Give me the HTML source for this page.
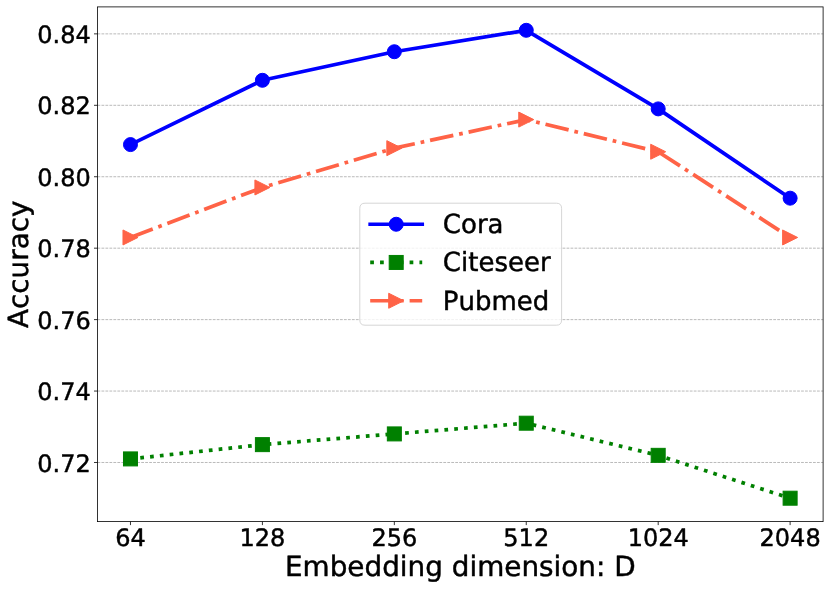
<!DOCTYPE html>
<html lang="en">
<head>
<meta charset="utf-8">
<title>Accuracy vs embedding dimension</title>
<style>
html,body{margin:0;padding:0;background:#fff;width:830px;height:589px;overflow:hidden}
svg text{font-kerning:none;text-rendering:geometricPrecision;stroke:#000;stroke-width:0.45px;stroke-linejoin:round}
</style>
</head>
<body>
<svg width="830" height="589" viewBox="0 0 830 589" style="display:block;position:absolute;left:0;top:0">
<rect x="0" y="0" width="830" height="589" fill="#fff"/>
<g stroke="#808080" stroke-opacity="0.72" stroke-width="0.75" stroke-dasharray="2.775 1.2" fill="none">
<path d="M97.50 462.49H823.10"/>
<path d="M97.50 391.05H823.10"/>
<path d="M97.50 319.61H823.10"/>
<path d="M97.50 248.18H823.10"/>
<path d="M97.50 176.74H823.10"/>
<path d="M97.50 105.30H823.10"/>
<path d="M97.50 33.87H823.10"/>
</g>
<clipPath id="ax"><rect x="97.5" y="6.9" width="725.60" height="514.70"/></clipPath>
<g clip-path="url(#ax)">
<polyline points="130.48,144.59 262.41,80.30 394.34,51.73 526.26,30.30 658.19,108.88 790.12,198.17" fill="none" stroke="#0000ff" stroke-width="3.718" stroke-linejoin="round" stroke-linecap="square"/>
<circle cx="130.48" cy="144.59" r="7.00" fill="#0000ff" stroke="#0000ff" stroke-width="1.0"/>
<circle cx="262.41" cy="80.30" r="7.00" fill="#0000ff" stroke="#0000ff" stroke-width="1.0"/>
<circle cx="394.34" cy="51.73" r="7.00" fill="#0000ff" stroke="#0000ff" stroke-width="1.0"/>
<circle cx="526.26" cy="30.30" r="7.00" fill="#0000ff" stroke="#0000ff" stroke-width="1.0"/>
<circle cx="658.19" cy="108.88" r="7.00" fill="#0000ff" stroke="#0000ff" stroke-width="1.0"/>
<circle cx="790.12" cy="198.17" r="7.00" fill="#0000ff" stroke="#0000ff" stroke-width="1.0"/>
<polyline points="130.48,458.91 262.41,444.63 394.34,433.91 526.26,423.20 658.19,455.34 790.12,498.20" fill="none" stroke="#008000" stroke-width="3.718" stroke-linejoin="round" stroke-dasharray="3.718 6.135"/>
<rect x="123.48" y="451.91" width="14.0" height="14.0" fill="#008000" stroke="#008000" stroke-width="1.0" stroke-linejoin="miter"/>
<rect x="255.41" y="437.63" width="14.0" height="14.0" fill="#008000" stroke="#008000" stroke-width="1.0" stroke-linejoin="miter"/>
<rect x="387.34" y="426.91" width="14.0" height="14.0" fill="#008000" stroke="#008000" stroke-width="1.0" stroke-linejoin="miter"/>
<rect x="519.26" y="416.20" width="14.0" height="14.0" fill="#008000" stroke="#008000" stroke-width="1.0" stroke-linejoin="miter"/>
<rect x="651.19" y="448.34" width="14.0" height="14.0" fill="#008000" stroke="#008000" stroke-width="1.0" stroke-linejoin="miter"/>
<rect x="783.12" y="491.20" width="14.0" height="14.0" fill="#008000" stroke="#008000" stroke-width="1.0" stroke-linejoin="miter"/>
<polyline points="130.48,237.46 262.41,187.46 394.34,148.17 526.26,119.59 658.19,151.74 790.12,237.46" fill="none" stroke="#ff6347" stroke-width="3.718" stroke-linejoin="round" stroke-dasharray="23.795 5.949 3.718 5.949"/>
<path d="M137.98 237.46L122.98 229.96L122.98 244.96Z" fill="#ff6347" stroke="#ff6347" stroke-width="1.0" stroke-linejoin="miter"/>
<path d="M269.91 187.46L254.91 179.96L254.91 194.96Z" fill="#ff6347" stroke="#ff6347" stroke-width="1.0" stroke-linejoin="miter"/>
<path d="M401.84 148.17L386.84 140.67L386.84 155.67Z" fill="#ff6347" stroke="#ff6347" stroke-width="1.0" stroke-linejoin="miter"/>
<path d="M533.76 119.59L518.76 112.09L518.76 127.09Z" fill="#ff6347" stroke="#ff6347" stroke-width="1.0" stroke-linejoin="miter"/>
<path d="M665.69 151.74L650.69 144.24L650.69 159.24Z" fill="#ff6347" stroke="#ff6347" stroke-width="1.0" stroke-linejoin="miter"/>
<path d="M797.62 237.46L782.62 229.96L782.62 244.96Z" fill="#ff6347" stroke="#ff6347" stroke-width="1.0" stroke-linejoin="miter"/>
</g>
<rect x="97.5" y="6.9" width="725.60" height="514.70" fill="none" stroke="#000" stroke-width="0.8" stroke-linejoin="miter"/>
<g stroke="#000" stroke-width="0.8" fill="none">
<path d="M97.50 462.49h-3.5"/>
<path d="M97.50 391.05h-3.5"/>
<path d="M97.50 319.61h-3.5"/>
<path d="M97.50 248.18h-3.5"/>
<path d="M97.50 176.74h-3.5"/>
<path d="M97.50 105.30h-3.5"/>
<path d="M97.50 33.87h-3.5"/>
<path d="M130.48 521.60v3.5"/>
<path d="M262.41 521.60v3.5"/>
<path d="M394.34 521.60v3.5"/>
<path d="M526.26 521.60v3.5"/>
<path d="M658.19 521.60v3.5"/>
<path d="M790.12 521.60v3.5"/>
</g>
<g font-family="'DejaVu Sans','Liberation Sans',sans-serif" font-size="24.0" fill="#000">
<text x="90.70" y="471.61" text-anchor="end">0.72</text>
<text x="90.70" y="400.17" text-anchor="end">0.74</text>
<text x="90.70" y="328.73" text-anchor="end">0.76</text>
<text x="90.70" y="257.30" text-anchor="end">0.78</text>
<text x="90.70" y="185.86" text-anchor="end">0.80</text>
<text x="90.70" y="114.42" text-anchor="end">0.82</text>
<text x="90.70" y="42.99" text-anchor="end">0.84</text>
<text x="130.48" y="546.39" text-anchor="middle">64</text>
<text x="262.41" y="546.39" text-anchor="middle">128</text>
<text x="394.34" y="546.39" text-anchor="middle">256</text>
<text x="526.26" y="546.39" text-anchor="middle">512</text>
<text x="658.19" y="546.39" text-anchor="middle">1024</text>
<text x="790.12" y="546.39" text-anchor="middle">2048</text>
</g>
<g font-family="'DejaVu Sans','Liberation Sans',sans-serif" font-size="27.85" fill="#000">
<text x="460.30" y="575.9" text-anchor="middle">Embedding dimension: D</text>
<text transform="translate(27.85 264.25) rotate(-90)" text-anchor="middle">Accuracy</text>
</g>
<path d="M365.00 203.2H556.40Q561.6 203.2 561.6 208.40V320.00Q561.6 325.2 556.40 325.2H365.00Q359.8 325.2 359.8 320.00V208.40Q359.8 203.2 365.00 203.2Z" fill="#fff" fill-opacity="0.8" stroke="#ccc" stroke-opacity="0.8" stroke-width="1"/>
<path d="M370.20 224.25H422.20" stroke="#0000ff" stroke-width="3.718" stroke-linecap="square"/>
<circle cx="396.20" cy="224.25" r="7.00" fill="#0000ff" stroke="#0000ff" stroke-width="1.0"/>
<path d="M370.20 262.45H422.20" stroke="#008000" stroke-width="3.718" stroke-dasharray="3.72 6.13"/>
<rect x="389.20" y="255.45" width="14.0" height="14.0" fill="#008000" stroke="#008000" stroke-width="1.0" stroke-linejoin="miter"/>
<path d="M370.20 300.75H422.20" stroke="#ff6347" stroke-width="3.718" stroke-dasharray="23.80 5.95 3.72 5.95"/>
<path d="M403.70 300.75L388.70 293.25L388.70 308.25Z" fill="#ff6347" stroke="#ff6347" stroke-width="1.0" stroke-linejoin="miter"/>
<g font-family="'DejaVu Sans','Liberation Sans',sans-serif" font-size="26" fill="#000">
<text transform="translate(442.85 233.2) scale(1 1.012)">Cora</text>
<text transform="translate(442.85 271.3) scale(1 1.012)">Citeseer</text>
<text transform="translate(442.85 309.5) scale(1 1.012)">Pubmed</text>
</g>
</svg>
</body>
</html>
